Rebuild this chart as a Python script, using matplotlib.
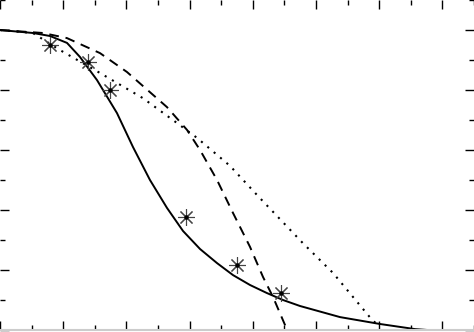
import numpy as np
import matplotlib.pyplot as plt
from matplotlib.ticker import MultipleLocator

# values (x in major-tick units, y normalised)
solid_x = [0.0, 0.522, 0.791, 1.06, 1.266, 1.535, 1.851, 2.104, 2.373, 2.642,
           2.896, 3.165, 3.434, 3.687, 3.956, 4.225, 4.478, 4.747, 5.38, 6.013,
           6.566, 6.962]
solid_y = [1.0, 0.99, 0.98, 0.957, 0.91, 0.833, 0.723, 0.61, 0.50, 0.407,
           0.33, 0.27, 0.223, 0.183, 0.15, 0.123, 0.10, 0.08, 0.043, 0.02,
           0.003, -0.003]

dashed_x = [0.0, 0.68, 1.06, 1.582, 2.009, 2.642, 2.959, 3.165, 3.434, 3.687,
            3.956, 4.161, 4.32, 4.509, 4.541]
dashed_y = [1.0, 0.99, 0.973, 0.923, 0.86, 0.743, 0.667, 0.60, 0.50, 0.39,
            0.277, 0.177, 0.11, 0.017, -0.003]

dotted_x = [0.0, 0.52, 0.95, 1.58, 2.26, 2.80, 3.12, 3.64, 4.08, 4.79,
            5.27, 5.89, 5.98]
dotted_y = [1.0, 0.99, 0.933, 0.857, 0.773, 0.69, 0.64, 0.547, 0.447, 0.29,
            0.19, 0.033, 0.017]

star_x = [0.79, 1.39, 1.74, 2.95, 3.75, 4.45]
star_y = [0.95, 0.893, 0.80, 0.377, 0.217, 0.123]

fig = plt.figure(figsize=(4.74, 3.32), dpi=100)
ax = fig.add_axes([0.0, 2 / 332, 1.0, 330 / 332])

ax.plot(solid_x, solid_y, color='black', lw=1.4)
ax.plot(dashed_x, dashed_y, color='black', lw=1.4, dashes=(5, 3.5))
ax.plot(dotted_x, dotted_y, color='black', lw=1.5, dashes=(1, 3))
ax.plot(star_x, star_y, linestyle='none', marker=(8, 2, 0), markersize=12,
        markeredgewidth=0.8, color='#444444')
ax.plot(star_x, star_y, linestyle='none', marker='o', markersize=2.2,
        color='black')

ax.set_xlim(0, 7.5)
ax.set_ylim(0, 1.1)
ax.xaxis.set_major_locator(MultipleLocator(1))
ax.xaxis.set_minor_locator(MultipleLocator(0.5))
ax.yaxis.set_major_locator(MultipleLocator(0.2))
ax.yaxis.set_minor_locator(MultipleLocator(0.1))
ax.tick_params(which='both', direction='in', top=True, right=True,
               labelbottom=False, labelleft=False, width=1.0, color='black')
ax.tick_params(which='major', length=6.5)
ax.tick_params(which='minor', length=3.5)

for side in ['left', 'top', 'right']:
    ax.spines[side].set_visible(False)
ax.spines['bottom'].set_color('#cccccc')
ax.spines['bottom'].set_linewidth(1.5)

fig.savefig('out.png', dpi=100)
